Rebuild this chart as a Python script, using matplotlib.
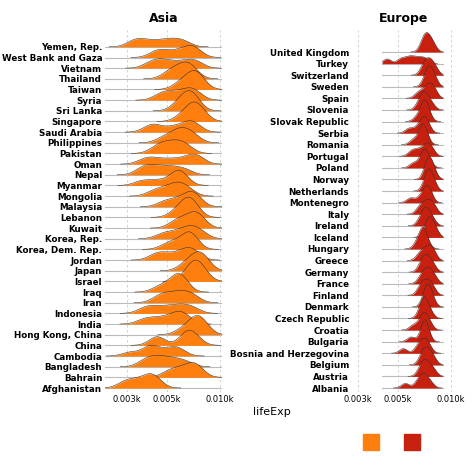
import numpy as np
import matplotlib
matplotlib.use("Agg")
import matplotlib.pyplot as plt

asia_countries = ["Afghanistan","Bahrain","Bangladesh","Cambodia","China","Hong Kong, China","India","Indonesia","Iran","Iraq","Israel","Japan","Jordan","Korea, Dem. Rep.","Korea, Rep.","Kuwait","Lebanon","Malaysia","Mongolia","Myanmar","Nepal","Oman","Pakistan","Philippines","Saudi Arabia","Singapore","Sri Lanka","Syria","Taiwan","Thailand","Vietnam","West Bank and Gaza","Yemen, Rep."]
asia_life = [
 [28.8,32.0,36.1,39.9,41.7,43.8],[50.9,56.9,63.3,69.1,72.6,75.6],[37.5,41.2,45.3,50.0,56.0,64.1],
 [39.4,43.4,40.3,31.2,51.0,55.8,59.7],[44.0,44.5,63.1,65.5,68.7,73.0],[61.0,69.5,72.0,75.5,77.6,82.2],
 [37.4,43.6,50.7,56.6,60.2,64.7],[37.5,42.5,49.2,56.2,62.7,70.6],[44.9,49.3,55.2,59.6,66.0,71.0],
 [45.3,51.5,57.0,62.0,59.5,59.5],[65.4,69.4,71.6,74.5,76.7,80.7],[63.0,69.0,73.4,77.1,79.4,82.6],
 [43.2,48.1,56.5,63.7,68.0,72.5],[50.1,56.7,64.0,69.1,70.0,67.3],[47.5,55.1,62.6,67.1,72.2,78.6],
 [55.6,60.5,67.7,71.3,75.2,77.6],[55.9,62.1,65.4,67.0,69.3,72.0],[48.5,55.7,63.0,68.0,70.7,74.2],
 [42.2,48.3,53.8,57.5,61.3,66.8],[36.3,43.9,53.1,58.1,59.3,62.1],[36.2,39.4,44.0,49.6,55.7,63.8],
 [37.6,43.2,52.1,62.7,71.2,75.6],[43.4,47.7,51.9,56.2,60.8,65.5],[47.8,54.8,58.1,62.1,66.5,71.7],
 [40.0,44.0,53.9,63.0,68.8,72.8],[60.4,68.0,69.5,71.8,75.8,80.0],[57.6,62.2,65.0,68.8,70.4,72.4],
 [45.9,51.0,57.3,64.6,69.2,74.1],[58.5,65.2,69.4,72.2,74.3,78.4],[50.8,56.1,60.4,64.6,67.3,70.6],
 [40.4,45.4,50.3,58.8,67.7,74.2],[43.2,48.1,56.5,64.4,69.7,73.4],[32.5,36.0,42.1,49.1,55.6,62.7]]

europe_countries = ["Albania","Austria","Belgium","Bosnia and Herzegovina","Bulgaria","Croatia","Czech Republic","Denmark","Finland","France","Germany","Greece","Hungary","Iceland","Ireland","Italy","Montenegro","Netherlands","Norway","Poland","Portugal","Romania","Serbia","Slovak Republic","Slovenia","Spain","Sweden","Switzerland","Turkey","United Kingdom"]
europe_life = [
 [55.2,64.8,67.7,70.4,71.6,76.4],[66.8,69.5,70.6,73.2,76.0,79.8],[68.0,70.3,71.4,73.9,76.5,79.4],
 [53.8,64.8,67.5,70.7,72.2,74.9],[59.6,69.5,70.9,71.1,71.2,73.0],[61.2,67.1,69.6,70.5,72.5,75.7],
 [66.9,69.9,70.3,71.0,72.4,76.5],[70.8,72.4,73.5,74.6,75.3,78.3],[66.6,69.0,70.9,74.6,75.7,79.3],
 [67.4,70.5,72.4,74.9,77.5,80.7],[67.5,70.3,71.0,73.8,76.1,79.4],[65.9,69.5,72.3,75.2,77.9,79.5],
 [64.0,68.0,69.8,69.4,69.2,73.3],[72.5,73.7,74.5,77.0,78.8,81.8],[66.9,70.3,71.3,73.1,75.0,78.9],
 [65.9,69.2,72.2,75.0,77.4,80.5],[59.2,67.2,70.6,74.1,75.4,74.5],[72.1,73.2,73.8,76.1,77.4,79.8],
 [72.7,73.5,74.3,76.0,77.3,80.2],[61.3,67.6,70.9,71.3,71.0,75.6],[59.8,64.4,69.3,72.8,74.9,78.1],
 [61.1,66.8,69.5,69.7,69.4,72.5],[58.0,64.5,68.7,70.2,71.7,74.0],[64.4,70.3,70.4,70.8,71.4,74.7],
 [65.6,69.2,69.8,71.1,73.6,77.9],[64.9,69.7,73.1,76.3,77.6,80.9],[71.9,73.4,74.7,76.4,78.2,80.9],
 [69.6,71.3,73.8,76.2,78.0,81.7],[43.6,52.1,57.0,61.0,66.1,71.8],[69.2,70.8,72.0,74.0,76.4,79.4]]

ticks = [30, 50, 100]
tick_labels = ["0.003k", "0.005k", "0.010k"]

W = 474
fig = plt.figure(figsize=(4.74, 4.74), dpi=100)

def px(l, t, r, b):
    return [l / W, 1 - b / W, (r - l) / W, (b - t) / W]

def panel(rect, names, data, color, xlim, base, ylim, title, bw):
    ax = fig.add_axes(rect)
    ax.set_xscale("log")
    ax.set_xlim(*xlim)
    ax.set_ylim(*ylim)
    gx = np.logspace(np.log10(base[0]), np.log10(base[1]), 400)
    lg = np.log10(gx)
    dens = []
    for vals in data:
        v = np.log10(np.array(vals))
        d = np.exp(-0.5 * ((lg[:, None] - v[None, :]) / bw) ** 2).sum(1) / (len(v) * bw)
        dens.append(d)
    mx = max(d.max() for d in dens)
    for t in ticks:
        ax.axvline(t, color="#cccccc", ls=(0, (3, 3)), lw=0.6, zorder=0)
    n = len(names)
    for i in range(n - 1, -1, -1):
        h = dens[i] / mx * 2.0
        z = 2 * (n - i)
        ax.plot(base, [i, i], color="#bbbbbb", lw=0.8, zorder=z)
        m = h > 0.004
        ax.fill_between(gx, i, i + h, where=m, color=color, lw=0, zorder=z + 1)
        ax.plot(gx[m], i + h[m], color="#333333", lw=0.4, zorder=z + 1)
    ax.set_yticks(range(n))
    ax.set_yticklabels(names, fontsize=6.3, fontweight="bold")
    ax.set_xticks(ticks)
    ax.set_xticklabels(tick_labels, fontsize=6)
    ax.xaxis.set_minor_locator(matplotlib.ticker.NullLocator())
    ax.tick_params(length=0, pad=2)
    for s in ax.spines.values():
        s.set_visible(False)
    ax.set_title(title, fontsize=9, fontweight="bold", pad=6)
    return ax

panel(px(105, 30, 222, 392), asia_countries, asia_life, "#FF7F0E",
      (22.5, 102.6), (22.5, 102.6), (-0.375, 33.58), "Asia", 0.045)
panel(px(352, 30, 455, 392), europe_countries, europe_life, "#C8200E",
      (27.7, 105), (40.9, 90), (-0.345, 30.9), "Europe", 0.022)

fig.text(272 / W, 1 - 412 / W, "lifeExp", fontsize=8, ha="center", va="center")
lax = fig.add_axes([0, 0, 1, 1], zorder=-5)
lax.set_xlim(0, W); lax.set_ylim(W, 0); lax.axis("off")
lax.add_patch(plt.Rectangle((363, 434), 16, 16, color="#FF7F0E"))
lax.add_patch(plt.Rectangle((404, 434), 16, 16, color="#C8200E"))

fig.savefig("out.png", dpi=100)
